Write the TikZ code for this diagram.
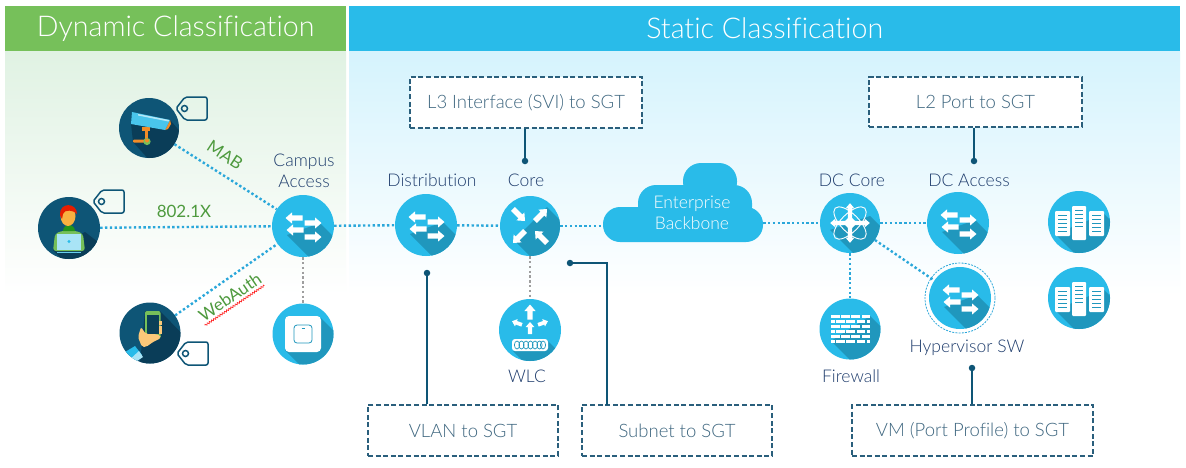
\documentclass[tikz,border=0pt]{standalone}
\usepackage{fontspec}
\setmainfont{Lato Light}[Ligatures=NoCommon]
\newfontfamily\regfont{Lato}[Ligatures=NoCommon]
\usetikzlibrary{decorations.pathmorphing,positioning}
\definecolor{cy}{HTML}{29BBE9}
\definecolor{cyd}{HTML}{2097BD}
\definecolor{nv}{HTML}{0E5576}
\definecolor{nvd}{HTML}{0A3D58}
\definecolor{gr}{HTML}{76C05A}
\definecolor{txt}{HTML}{1E3C6C}
\definecolor{btx}{HTML}{3F6780}
\definecolor{bdr}{HTML}{2A5F7C}
\definecolor{dotb}{HTML}{2AA7DA}
\definecolor{lab}{HTML}{4E9A3E}
\definecolor{org}{HTML}{F28C28}
\definecolor{skin}{HTML}{F9B040}
\definecolor{gtop}{HTML}{E0F2E3}
\definecolor{btop}{HTML}{D5F3FD}
\pgfdeclareverticalshading{gfade}{100bp}{color(0bp)=(white);color(40bp)=(white);color(75bp)=(gtop);color(100bp)=(gtop)}
\pgfdeclareverticalshading{bfade}{100bp}{color(0bp)=(white);color(40bp)=(white);color(75bp)=(btop);color(100bp)=(btop)}
\tikzset{
 x=1pt,y=-1pt,
 header/.style={font=\fontsize{28.6}{30}\selectfont,text=white},
 devlabel/.style={font=\fontsize{17.5}{21}\selectfont,text=txt,align=center,inner sep=0pt},
 disc/.style={circle,inner sep=0pt,draw=none},
 flow/.style={dotb,line width=2.4pt,dash pattern=on 2.4pt off 2.4pt},
 gflow/.style={black!38,line width=2.4pt,dash pattern=on 2.4pt off 2.4pt},
 mapbox/.style={draw=bdr,line width=1.5pt,dash pattern=on 5pt off 2.6pt,fill=white,text=btx,font=\fontsize{18.5}{20}\selectfont,inner sep=0pt},
 leader/.style={nv,line width=1.6pt},
 tip/.style={nv,inner sep=0pt,circle,fill=nv,minimum size=6.5pt},
 method/.style={font=\regfont\fontsize{17}{20}\selectfont,text=lab,inner sep=0pt},
 tagline/.style={draw=nv,line width=1.5pt,rounded corners=2pt},
}
% fat arrow: x y angle length
\newcommand{\fa}[5][1]{\fill[white,shift={(#2,#3)},rotate=#4,scale=#1] (#5/2,0)--(#5/2-6.5,-5.6)--(#5/2-6.5,-2.7)--(-#5/2,-2.7)--(-#5/2,2.7)--(#5/2-6.5,2.7)--(#5/2-6.5,5.6)--cycle;}
\newcommand{\disc}[5]{\node[disc,fill=#5,minimum size=#4*2pt] (#1) at (#2,#3) {};}
\newcommand{\switchglyph}{%
 \fill[cyd] (-16,9)--(17,-3)--(47,27)--(14,39)--cycle;
 \fa{-9}{-8}{180}{17}\fa{10}{-3}{0}{17}\fa{-8}{4}{180}{17}\fa{10}{11}{0}{17}}
\newcommand{\serverglyph}{%
 \fill[cyd] (-24,12)--(25,-8)--(60,27)--(11,47)--cycle;
 \fill[white,rounded corners=1pt] (-24,-11) rectangle (-9,14) (-7,-16) rectangle (7,18) (10,-11) rectangle (25,14);
 \foreach \yy in {-7,-3,1,5,9}{\draw[cyd,line width=1pt] (-21,\yy)--(-12,\yy) (13,\yy)--(22,\yy);}
 \foreach \yy in {-12,-8,-4,0,4}{\draw[cyd,line width=1pt] (-4,\yy)--(4,\yy);}}
\newcommand{\prtag}[2]{\begin{scope}[shift={(#1,#2)}]
 \draw[tagline] (0,11.5)--(9,0)--(31,0)--(31,23)--(9,23)--cycle;
 \draw[nv,line width=1.5pt] (8.5,11.5) circle (3);
\end{scope}}
\begin{document}
\begin{tikzpicture}
\useasboundingbox (0,0) rectangle (1186,467);
\fill[white] (0,0) rectangle (1186,467);
% panels
\shade[shading=gfade] (5,51) rectangle (346,400);
\shade[shading=bfade] (349,51) rectangle (1180,400);
\node[fill=gr,minimum width=341pt,minimum height=45pt,inner sep=0pt,anchor=north west,header] (dyn) at (5,6) {Dynamic Classification};
\node[fill=cy,minimum width=831pt,minimum height=45pt,inner sep=0pt,anchor=north west,header] (stat) at (349,6) {Static Classification};
% discs
\disc{cam}{149}{128}{30}{nv}
\disc{person}{69}{228}{31}{nv}
\disc{phone}{150}{333}{30.5}{nv}
\disc{campus}{303}{226}{31}{cy}
\disc{ap}{303}{334}{30.5}{cy}
\disc{dist}{426}{225}{31}{cy}
\disc{core}{530}{226}{30}{cy}
\disc{wlc}{530}{330}{31}{cy}
\disc{dccore}{850}{223}{30}{cy}
\disc{dcacc}{958}{223}{31}{cy}
\disc{fw}{850}{329}{30.5}{cy}
\disc{hyp}{960}{298}{31}{cy}
\disc{srvA}{1079}{222}{31}{cy}
\disc{srvB}{1079}{298}{31}{cy}
% cloud
\fill[cy,rounded corners=17pt] (603,207) rectangle (763,242);
\fill[cy,rounded corners=18pt] (638,185) rectangle (752,225);
\fill[cy,rounded corners=18pt] (683,163) rectangle (737,200);
\node[inner sep=0pt,minimum width=160pt,minimum height=35pt] (cloud) at (683,224) {};
\node[inner sep=0pt,text=white,font=\fontsize{17.5}{21}\selectfont,align=center] (cloudtxt) at (692,212.5) {Enterprise\\Backbone};
% glyphs
\begin{scope}[shift={(303,226)}]\clip (0,0) circle (31);\switchglyph\end{scope}
\begin{scope}[shift={(426,225)}]\clip (0,0) circle (31);\switchglyph\end{scope}
\begin{scope}[shift={(958,223)}]\clip (0,0) circle (31);\switchglyph\end{scope}
\begin{scope}[shift={(960,298)}]\clip (0,0) circle (31);\switchglyph\end{scope}
\draw[dotb,line width=0.8pt,dash pattern=on 2pt off 1.2pt] (960,298) circle (35);
% core
\begin{scope}[shift={(530,226)}]\clip (0,0) circle (30);
 \fill[cyd] (-16,14)--(17,-19)--(50,14)--(17,47)--cycle;
 \fa{-11}{-11}{-45}{17}\fa{11}{-11}{45}{17}\fa{-11}{11}{225}{17}\fa{11}{11}{135}{17}
\end{scope}
% wlc
\begin{scope}[shift={(530,330)}]\clip (0,0) circle (31);
 \fill[cyd] (-17,21)--(17,10)--(45,38)--(11,49)--cycle;
 \fa{0}{-18}{90}{15}\fa[.8]{0}{-2}{90}{15}\fa[.7]{-13}{-7}{160}{15}\fa[.7]{13}{-7}{20}{15}
 \fill[white,rounded corners=3pt] (-18,9) rectangle (18,21);
 \foreach \xx in {-13,-8.5,-4,0.5,5,9.5,13}{\draw[cyd,line width=.7pt] (\xx,15) ellipse (2.6 and 4);}
\end{scope}
% dc core
\begin{scope}[shift={(850,223)}]\clip (0,0) circle (30);
 \fill[cyd] (-20,7)--(20,-7)--(55,28)--(15,42)--cycle;
 \fa[.8]{0}{-11}{90}{22}\fa[.8]{0}{11}{270}{22}\fa[.8]{-11}{0}{180}{22}\fa[.8]{11}{0}{0}{22}
 \fill[white] (-7,0)--(0,-7)--(7,0)--(0,7)--cycle;
 \draw[white,line width=.9pt,rotate=45] (0,0) ellipse (21 and 9);
 \draw[white,line width=.9pt,rotate=-45] (0,0) ellipse (21 and 9);
\end{scope}
% firewall
\begin{scope}[shift={(850,329)}]\clip (0,0) circle (30.5);
 \fill[cyd] (-19,12)--(20,-13)--(60,27)--(21,52)--cycle;
 \foreach \yy/\sh in {-13/0,-8/1,-3/0,2/1,7/0,12/1}{
  \foreach \k in {0,1,2,3}{
   \pgfmathsetmacro{\xa}{-19+\k*10.2-\sh*5}
   \pgfmathsetmacro{\xb}{\xa+8.8}
   \pgfmathsetmacro{\xc}{max(\xa,-19)}
   \pgfmathsetmacro{\xd}{min(\xb,20)}
   \fill[white] (\xc,\yy-1.5) rectangle (\xd,\yy+1.5);}
  \ifnum\sh=1 \fill[white] (17,\yy-1.5) rectangle (20,\yy+1.5);\fi}
\end{scope}
% servers
\begin{scope}[shift={(1079,222)}]\clip (0,0) circle (31);\serverglyph\end{scope}
\begin{scope}[shift={(1079,298)}]\clip (0,0) circle (31);\serverglyph\end{scope}
% ap
\begin{scope}[shift={(303,334)}]\clip (0,0) circle (30.5);
 \fill[cyd] (-18,16)--(18,-16)--(60,26)--(24,58)--cycle;
 \fill[white,rounded corners=4pt] (-18,-18) rectangle (18,18);
 \draw[cyd,line width=.8pt,rounded corners=3pt] (-9,-9) rectangle (9,9);
 \draw[cyd,line width=.8pt] (-1.5,-6)--(1.5,-6);
\end{scope}
% camera
\begin{scope}[shift={(149,128)}]\clip (0,0) circle (30);
 \fill[nvd] (-18,-4)--(21,-8)--(50,25)--(12,45)--(-16,14)--cycle;
 \fill[org] (-7,-1) rectangle (1,3);
 \fill[org] (-4.5,3) rectangle (-1.5,13);
 \fill[org,rounded corners=1pt] (-16,11.5) rectangle (0,14.5);
 \fill[gr] (-2,13.5) circle (3.6);
 \fill[org] (-2,12.5) circle (2);
 \fill[org] (16,2)--(21,-8)--(22,-4)--(19,1)--cycle;
 \fill[cy!85!white] (-17,-16)--(21,-8)--(16,2)--(-18,-4)--cycle;
 \fill[cy!35!white] (-11,-14)--(20,-8)--(19.5,-6.5)--(-11,-12.5)--cycle;
\end{scope}
% person
\begin{scope}[shift={(69,228)}]\clip (0,0) circle (31);
 \fill[nvd] (-16,22)--(16,4)--(50,30)--(20,60)--cycle;
 \fill[gr,rounded corners=3pt] (-16,23)--(-14,6)--(-8,3)--(8,3)--(14,6)--(16,23)--cycle;
 \fill[green!50!black!70!gr] (-6,3) arc[start angle=180,end angle=360,radius=6]--cycle;
 \fill[skin] (-1,-12) ellipse (7.5 and 10);
 \fill[red!75!orange!90!black] (-9,-13) .. controls (-10,-26) and (8,-26) .. (8,-14) .. controls (5,-18) and (-5,-19) .. (-6,-14) -- (-7,-9) -- cycle;
 \fill[cy!40!white] (-12,6) rectangle (12,22);
 \fill[cy] (0,13.5) circle (1.6);
 \draw[cy!70!white,line width=1pt] (-12,24)--(12,24);
\end{scope}
% phone
\begin{scope}[shift={(150,333)}]\clip (0,0) circle (30.5);
 \fill[nvd] (-5,-22)--(10,-22)--(55,24)--(25,60)--(-10,30)--cycle;
 \fill[gr,rounded corners=2pt] (-5,-22) rectangle (10.5,6);
 \fill[nv!75!black] (-3,-18) rectangle (8.5,1);
 \fill[skin!70!white,rounded corners=2pt] (-12,4)--(-9,-6)--(-7,-3)--(-4,1)--(5,1)--(10,2)--(11,5)--(3,9)--(-4,14)--(-8,14)--cycle;
 \foreach \yy in {-10,-5.5,-1}{\fill[skin!70!white] (9,\yy-2) rectangle (12,\yy+2);}
 \fill[cy] (-15,13)--(-8,22)--(-16,30)--(-32,30)--(-30,22)--cycle;
 \fill[cy!40!white] (-11,18)--(-7,24)--(-16,30)--(-24,30)--cycle;
\end{scope}
% tags
\prtag{176}{97}
\prtag{93}{190}
\prtag{177}{342}
% connectors
\draw[flow] (cam) -- (campus);
\draw[flow] (person) -- (campus);
\draw[flow] (phone) -- (campus);
\draw[flow] (campus) -- (dist);
\draw[flow] (dist) -- (core);
\draw[flow] (core.east) -- (core.east -| cloud.west);
\draw[flow] (dccore.west -| cloud.east) -- (dccore.west);
\draw[flow] (dccore) -- (dcacc);
\draw[flow] (dccore) -- (fw);
\draw[flow] (dccore) -- (hyp);
\draw[gflow] (campus) -- (ap);
\draw[gflow] (core) -- (wlc);
% labels
\node[devlabel] (lcampus) at (304,171) {Campus\\Access};
\node[devlabel] (ldist) at (432,180) {Distribution};
\node[devlabel] (lcore) at (526,180) {Core};
\node[devlabel] (lwlc) at (527,376) {WLC};
\node[devlabel] (ldcc) at (852,180) {DC Core};
\node[devlabel] (ldca) at (969,180) {DC Access};
\node[devlabel] (lfw) at (851,376) {Firewall};
\node[devlabel] (lhyp) at (967,348) {Hypervisor SW};
\node[method,rotate=-33] (mab) at (225,155) {MAB};
\node[method] (dot1x) at (184,211) {802.1X};
\node[method,rotate=34] (web) at (230,297) {WebAuth};
\draw[red!85!white,line width=.7pt,decorate,decoration={zigzag,amplitude=.9pt,segment length=2.6pt}] ([xshift=1pt,yshift=-3pt]web.south west) -- ([xshift=1pt,yshift=-3pt]web.south east);
% mapping boxes
\node[mapbox,minimum width=232pt,minimum height=51pt] (bl3) at (526,102.5) {L3 Interface (SVI) to SGT};
\node[mapbox,minimum width=213pt,minimum height=50pt] (bl2) at (975.5,102) {L2 Port to SGT};
\node[mapbox,minimum width=190pt,minimum height=51pt] (bvlan) at (463,430.5) {VLAN to SGT};
\node[mapbox,minimum width=190pt,minimum height=51pt] (bsub) at (677,430.5) {Subnet to SGT};
\node[mapbox,minimum width=241pt,minimum height=51pt] (bvm) at (972.5,430.5) {VM (Port Profile) to SGT};
\node[tip] (t1) at (525,161) {};
\node[tip] (t2) at (974,161) {};
\node[tip] (t3) at (427,273) {};
\node[tip] (t4) at (570,263) {};
\node[tip] (t5) at (972,368) {};
\coordinate (subnetin) at (607,405);
\draw[leader] (bl3.south -| t1) -- (t1);
\draw[leader] (bl2.south -| t2) -- (t2);
\draw[leader] (t3) -- (t3 |- bvlan.north);
\draw[leader] (t4) -| (subnetin);
\draw[leader] (t5) -- (t5 |- bvm.north);
\end{tikzpicture}
\end{document}
